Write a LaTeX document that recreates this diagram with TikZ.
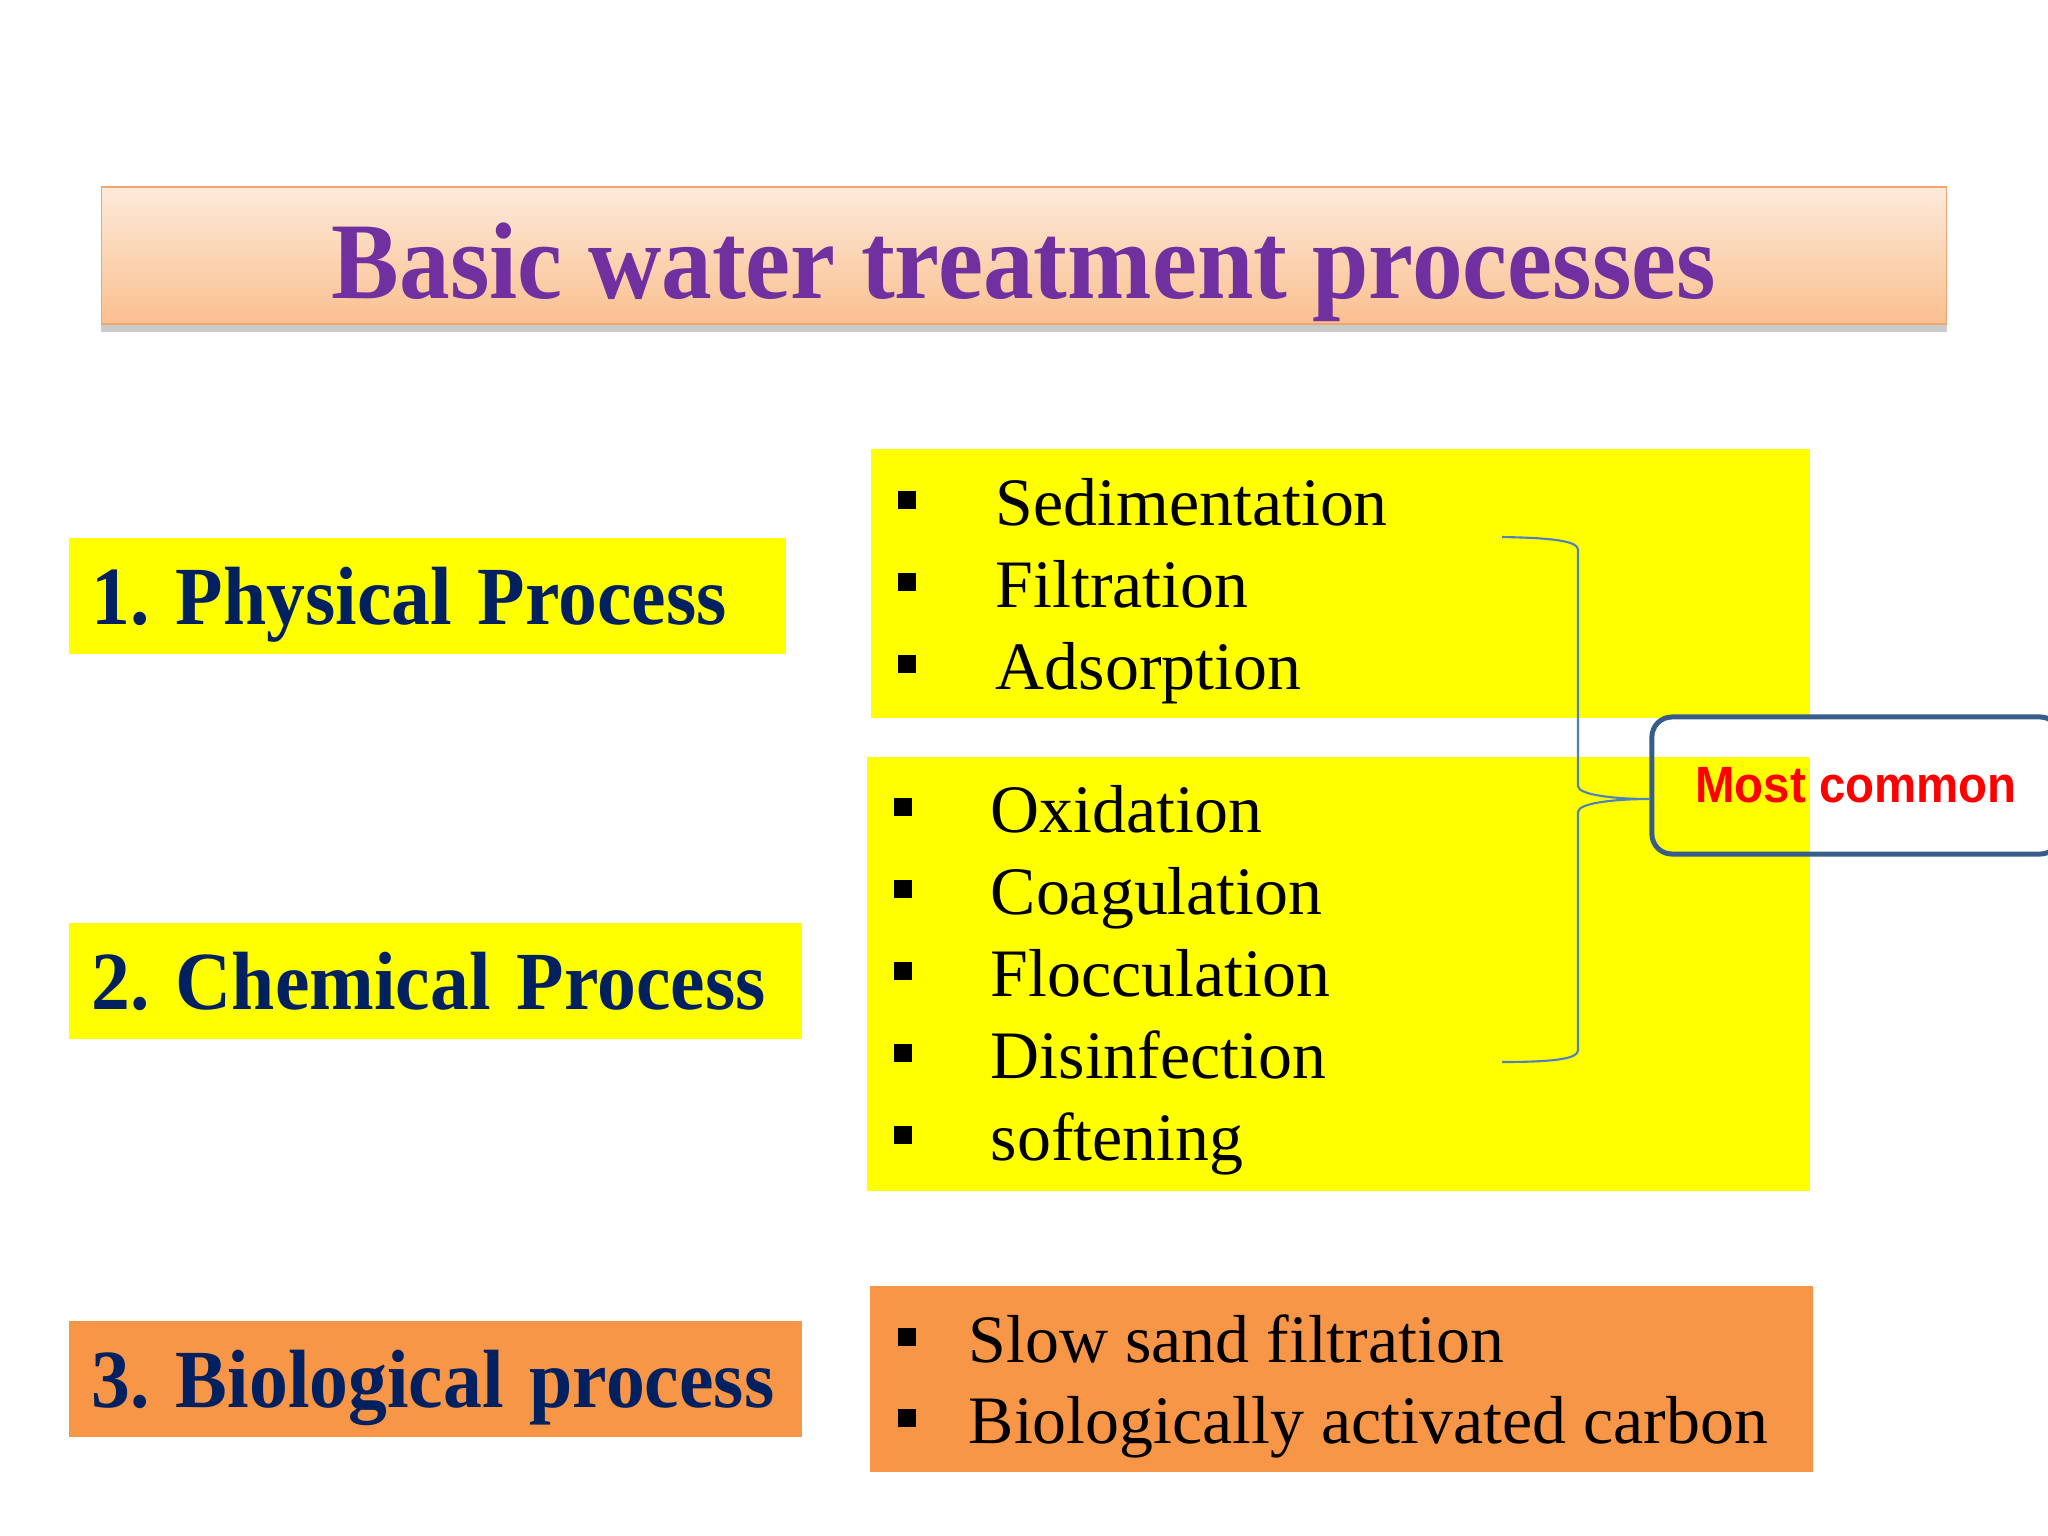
\documentclass[tikz,border=0pt]{standalone}
\usepackage{fontspec}
\setmainfont{Liberation Serif}
\newfontfamily\arialfont{Liberation Sans}
\usepackage{tikz}
\usetikzlibrary{positioning}
\usetikzlibrary{shadows}

\definecolor{procyellow}{RGB}{255,255,0}
\definecolor{procorange}{RGB}{247,150,70}
\definecolor{labelnavy}{RGB}{0,32,96}
\definecolor{titlepurple}{RGB}{112,48,160}
\definecolor{titletop}{RGB}{253,234,218}
\definecolor{titlebottom}{RGB}{250,191,143}
\definecolor{titleline}{RGB}{240,165,110}
\definecolor{bracecol}{RGB}{79,129,189}
\definecolor{calloutcol}{RGB}{56,93,138}

\newcommand{\sqbullet}{\rule[0.16cm]{0.18cm}{0.18cm}}
\newcommand{\listbullet}[1]{\makebox[#1][l]{\sqbullet}}
\newcommand{\narrow}[2]{\scalebox{#1}[1]{\frenchspacing #2}}

\begin{document}
\begin{tikzpicture}[
    x=0.01cm, y=-0.01cm,
    title/.style={top color=titletop, bottom color=titlebottom, draw=titleline,
      minimum width=18.44cm, inner xsep=0pt, inner ysep=0pt,
      text height=1.11cm, text depth=0.26cm, text=titlepurple,
      font=\bfseries\fontsize{31pt}{37pt}\selectfont,
      drop shadow={shadow xshift=0pt, shadow yshift=-0.08cm, fill=black!35, opacity=0.6}},
    proc/.style={text=labelnavy, font=\bfseries\fontsize{23.5pt}{28pt}\selectfont,
      inner xsep=0.23cm, inner ysep=0pt, text height=0.87cm, text depth=0.29cm,
      align=left, anchor=north west},
    listbox/.style={inner sep=0pt, anchor=north west},
    item/.style={font=\fontsize{19.3pt}{23pt}\selectfont, inner sep=0pt, anchor=base west},
    callout/.style={draw=calloutcol, line width=0.05cm, rounded corners=0.2cm,
      minimum width=4.08cm, minimum height=1.37cm, text=red,
      font=\arialfont\bfseries\fontsize{14.5pt}{17pt}\selectfont},
    brace/.style={draw=bracecol, line width=0.6pt}
    ]
  \useasboundingbox (0,0) rectangle (2048,1536);

  \node[title] (title) at (1024,255.5) {\narrow{0.93}{Basic water treatment processes}};

  % left column
  \node[proc, fill=procyellow, text width=6.71cm] (phys) at (68,537) {\narrow{0.94}{1. Physical Process}};
  \node[proc, fill=procyellow, text width=6.87cm] (chem) at (68,922) {\narrow{0.94}{2. Chemical Process}};
  \node[proc, fill=procorange, text width=6.87cm] (bio) at (68,1320) {\narrow{0.94}{3. Biological process}};

  % right column
  \node[listbox, fill=procyellow, minimum width=9.39cm, minimum height=2.69cm] (physlist) at (870,448) {};
  \node[listbox, fill=procyellow, minimum width=9.43cm, minimum height=4.34cm] (chemlist) at (866,756) {};
  \node[listbox, fill=procorange, minimum width=9.43cm, minimum height=1.86cm] (biolist) at (869,1285) {};

  \node[item] (sed) at (897,525) {\listbullet{0.98cm}Sedimentation};
  \node[below=0.82cm of sed.base west, item] (fil) {\listbullet{0.98cm}Filtration};
  \node[below=0.82cm of fil.base west, item] (ads) {\listbullet{0.98cm}Adsorption};

  \node[item] (oxi) at (893,832) {\listbullet{0.97cm}Oxidation};
  \node[below=0.82cm of oxi.base west, item] (coa) {\listbullet{0.97cm}Coagulation};
  \node[below=0.82cm of coa.base west, item] (flo) {\listbullet{0.97cm}Flocculation};
  \node[below=0.82cm of flo.base west, item] (dis) {\listbullet{0.97cm}Disinfection};
  \node[below=0.82cm of dis.base west, item] (sof) {\listbullet{0.97cm}softening};

  \node[item] (ssf) at (897,1362) {\listbullet{0.71cm}Slow sand filtration};
  \node[below=0.81cm of ssf.base west, item] (bac) {\listbullet{0.71cm}Biologically activated carbon};

  % brace and callout
  \node[callout] (mc) at (1856,785.5) {\narrow{0.93}{Most common}};
  \coordinate (btop) at (1502,537);
  \coordinate (bbot) at (1502,1062);
  \coordinate (btip) at (mc.west |- 0,799);
  \draw[brace] (btop) .. controls (1560,538) and (1578,542) .. (1578,550) -- (1578,786)
    .. controls (1578,795) and (1615,799) .. (btip)
    .. controls (1615,799) and (1578,803) .. (1578,812) -- (1578,1050)
    .. controls (1578,1058) and (1560,1062) .. (bbot);

\end{tikzpicture}
\end{document}
